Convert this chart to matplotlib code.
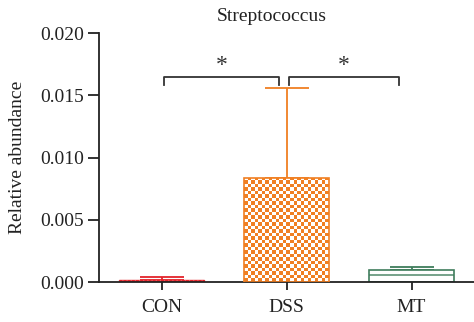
import numpy as np
import matplotlib
matplotlib.use("Agg")
import matplotlib.pyplot as plt
from matplotlib.colors import ListedColormap

plt.rcParams['font.family'] = ['Liberation Serif', 'DejaVu Serif']

# data
groups = ["CON", "DSS", "MT"]
means = [0.0002, 0.0084, 0.00095]
errors = [0.0002, 0.0072, 0.00025]
colors = ["#e3242b", "#f07f22", "#3f7d5c"]
yticks = [0.000, 0.005, 0.010, 0.015, 0.020]
# significance brackets: (x0, x1, height, label)
brackets = [(0.02, 0.94, 0.01647, "*"), (1.02, 1.90, 0.01647, "*")]

fig = plt.figure(figsize=(4.74, 3.22), dpi=100)
ax = fig.add_axes([0.209, 0.124, 0.791, 0.773])

x = np.arange(len(groups))
width = 0.68

# error bars (upper only)
for i in range(len(groups)):
    ax.errorbar(x[i], means[i], yerr=[[0], [errors[i]]], color=colors[i],
                capsize=15.5, elinewidth=1.3, capthick=1.3, zorder=1)

# CON: red with white dots
ax.bar(x[0], means[0], width, color=colors[0], edgecolor=colors[0], linewidth=1, zorder=2)
ax.bar(x[0], means[0], width, facecolor="none", edgecolor="white", hatch="....", linewidth=0, zorder=3)

# DSS: orange checkerboard
dss = ax.bar(x[1], means[1], width, facecolor="none", edgecolor=colors[1], linewidth=1.2, zorder=3)[0]
nx, ny = 24, 30
checker = (np.add.outer(np.arange(ny), np.arange(nx)) % 2).astype(float)
cmap = ListedColormap(["white", colors[1]])
im = ax.imshow(checker, cmap=cmap, interpolation="nearest", aspect="auto",
               extent=[dss.get_x(), dss.get_x() + dss.get_width(), 0, dss.get_height()],
               zorder=2)
im.set_clip_path(dss)

# MT: white with green horizontal lines
ax.bar(x[2], means[2], width, facecolor="white", edgecolor=colors[2], hatch="-", linewidth=1.2, zorder=2)

# brackets
for x0, x1, h, lab in brackets:
    ax.plot([x0, x0, x1, x1], [h - 0.0006, h, h, h - 0.0006], color="#333333", lw=1.3, clip_on=False)
    ax.text((x0 + x1) / 2, h + 0.0001, lab, ha="center", va="bottom", fontsize=17, color="#333333")

ax.set_xlim(-0.5, 2.5)
ax.set_ylim(0, 0.020)
ax.set_xticks(x)
ax.set_xticklabels(groups, fontsize=14)
ax.set_yticks(yticks)
ax.set_yticklabels([f"{v:.3f}" for v in yticks], fontsize=14)
ax.set_ylabel("Relative abundance", fontsize=14, color="#222222", labelpad=10)
ax.set_title("Streptococcus", fontsize=14, x=0.46, pad=9, color="#222222")

for s in ["top", "right"]:
    ax.spines[s].set_visible(False)
for s in ["left", "bottom"]:
    ax.spines[s].set_linewidth(1.3)
    ax.spines[s].set_color("#222222")
ax.tick_params(axis="y", length=8, width=1.3, colors="#222222", pad=3)
ax.tick_params(axis="x", length=6, width=1.3, colors="#222222", pad=6)

fig.savefig("out.png", dpi=100)
